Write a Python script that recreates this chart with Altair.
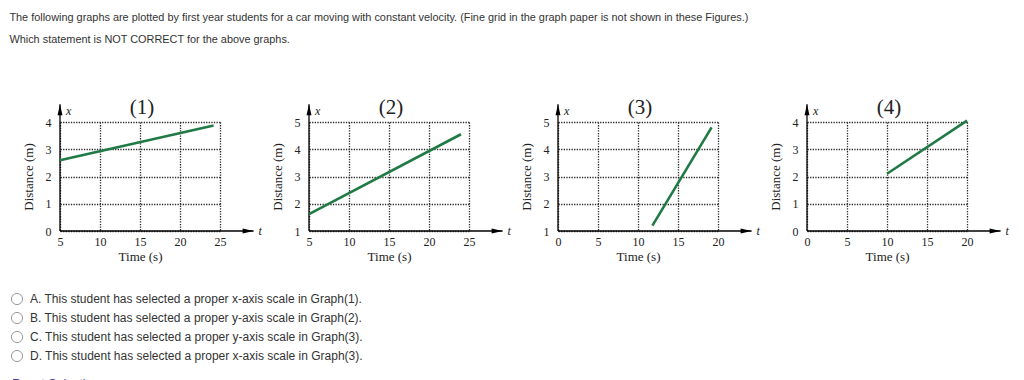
import altair as alt
import pandas as pd

# ---------------- data ----------------
header_lines = [
    "The following graphs are plotted by first year students for a car moving with constant velocity. (Fine grid in the graph paper is not shown in these Figures.)",
    "Which statement is NOT CORRECT for the above graphs.",
]
panel_titles = ["(1)", "(2)", "(3)", "(4)"]
x_domains = [[5, 25], [5, 25], [0, 20], [0, 20]]
x_ticks = [[5, 10, 15, 20, 25], [5, 10, 15, 20, 25], [0, 5, 10, 15, 20], [0, 5, 10, 15, 20]]
y_domains = [[0, 4], [1, 5], [1, 5], [0, 4]]
y_ticks = [[0, 1, 2, 3, 4], [1, 2, 3, 4, 5], [1, 2, 3, 4, 5], [0, 1, 2, 3, 4]]
line_time = [[5, 24.2], [5, 24.0], [11.8, 19.2], [10, 20]]
line_dist = [[2.6, 3.87], [1.62, 4.55], [1.2, 4.8], [2.1, 4.05]]
options = [
    "A. This student has selected a proper x-axis scale in Graph(1).",
    "B. This student has selected a proper y-axis scale in Graph(2).",
    "C. This student has selected a proper y-axis scale in Graph(3).",
    "D. This student has selected a proper x-axis scale in Graph(3).",
]
reset_label = ["Reset Selection"]

# ---------------- style ----------------
SERIF = "Liberation Serif"
SANS = "Liberation Sans"
GREEN = "#1f7a45"
INK = "#222222"
W, H = 160, 109
X_EXT, Y_EXT = 4.2, 0.65
ARROW_R = "M-2,-0.45L0,0L-2,0.45Z"
ARROW_U = "M-0.45,2L0,0L0.45,2Z"


def panel(i):
    xd, yd = x_domains[i], y_domains[i]
    xs = alt.Scale(domain=xd, nice=False, zero=False)
    ys = alt.Scale(domain=yd, nice=False, zero=False)
    xa = alt.Axis(
        values=x_ticks[i], title="Time (s)", grid=True, domain=False, ticks=False,
        labelFlush=False, labelOverlap=False, labelPadding=5, titlePadding=3,
        gridDash=[1.3, 1.3], gridColor="#2a2a2a", gridWidth=1.3, gridOpacity=1,
        labelFont=SERIF, labelFontSize=12, labelColor=INK,
        titleFont=SERIF, titleFontSize=13, titleFontWeight="normal", titleColor=INK)
    ya = alt.Axis(
        values=y_ticks[i], title="Distance (m)", grid=True, domain=False, ticks=False,
        labelOverlap=False, labelPadding=9, titlePadding=10,
        gridDash=[1.3, 1.3], gridColor="#2a2a2a", gridWidth=1.3, gridOpacity=1,
        labelFont=SERIF, labelFontSize=12, labelColor=INK,
        titleFont=SERIF, titleFontSize=13, titleFontWeight="normal", titleColor=INK)
    X = alt.X("t:Q", scale=xs, axis=xa)
    Y = alt.Y("d:Q", scale=ys, axis=ya)

    line_df = pd.DataFrame({"t": line_time[i], "d": line_dist[i]})
    line = alt.Chart(line_df).mark_line(color=GREEN, strokeWidth=2.6).encode(x=X, y=Y)

    ax_df = pd.DataFrame({
        "t": [xd[0], xd[0]], "t2": [xd[1] + X_EXT, xd[0]],
        "d": [yd[0], yd[0]], "d2": [yd[0], yd[1] + Y_EXT],
    })
    rules = alt.Chart(ax_df).mark_rule(color="black", strokeWidth=1.3).encode(
        x=X, x2="t2:Q", y=Y, y2="d2:Q")

    tip_r = pd.DataFrame({"t": [xd[1] + X_EXT], "d": [yd[0]]})
    tip_u = pd.DataFrame({"t": [xd[0]], "d": [yd[1] + Y_EXT]})
    head_r = alt.Chart(tip_r).mark_point(shape=ARROW_R, size=121, filled=True, color="black", opacity=1).encode(x=X, y=Y)
    head_u = alt.Chart(tip_u).mark_point(shape=ARROW_U, size=121, filled=True, color="black", opacity=1).encode(x=X, y=Y)

    lab_t = alt.Chart(tip_r.assign(s="t")).mark_text(
        font=SERIF, fontStyle="italic", fontSize=12, color=INK, align="left", baseline="middle", dx=5
    ).encode(x=X, y=Y, text="s:N")
    lab_x = alt.Chart(tip_u.assign(s="x")).mark_text(
        font=SERIF, fontStyle="italic", fontSize=12, color=INK, align="left", baseline="middle", dx=6, dy=7
    ).encode(x=X, y=Y, text="s:N")

    return alt.layer(rules, line, head_r, head_u, lab_t, lab_x).properties(
        width=W, height=H,
        title=alt.TitleParams(panel_titles[i], font=SERIF, fontSize=21, fontWeight="normal",
                              color=INK, dx=2, dy=14, offset=0),
    )


row = alt.hconcat(*[panel(i) for i in range(4)], spacing=89, bounds="flush")

opt_df = pd.DataFrame({"row": list(range(len(options))), "label": options})
reset_df = pd.DataFrame({"row": [len(options)], "label": reset_label})
oys = alt.Scale(domain=[0, len(options) - 1], reverse=True, nice=False, zero=False)

circles = alt.Chart(opt_df).mark_point(
    shape="circle", size=125, filled=True, fill="white", stroke="#9a9a9a", strokeWidth=1, opacity=1
).encode(x=alt.value(-43), y=alt.Y("row:Q", scale=oys, axis=None))
texts = alt.Chart(opt_df).mark_text(
    align="left", baseline="middle", font=SANS, fontSize=12, color="#333333"
).encode(x=alt.value(-30), y=alt.Y("row:Q", scale=oys, axis=None), text="label:N")
reset = alt.Chart(reset_df).mark_text(
    align="left", baseline="middle", font=SANS, fontSize=12.5, color="#4e3d96", dy=9
).encode(x=alt.value(-48), y=alt.Y("row:Q", scale=oys, axis=None), text="label:N")

opts = alt.layer(circles, texts, reset).properties(width=300, height=57)

chart = alt.vconcat(row, opts, spacing=28).properties(
    title=alt.TitleParams(header_lines, anchor="start", font=SANS, fontSize=10.9, fontWeight="normal",
                          color="#333333", lineHeight=22, offset=52),
    padding={"left": 1, "top": 3, "right": 5, "bottom": 5},
).configure_view(stroke=None)

chart.save("out.html", embed_options={"renderer": "svg", "actions": False})
